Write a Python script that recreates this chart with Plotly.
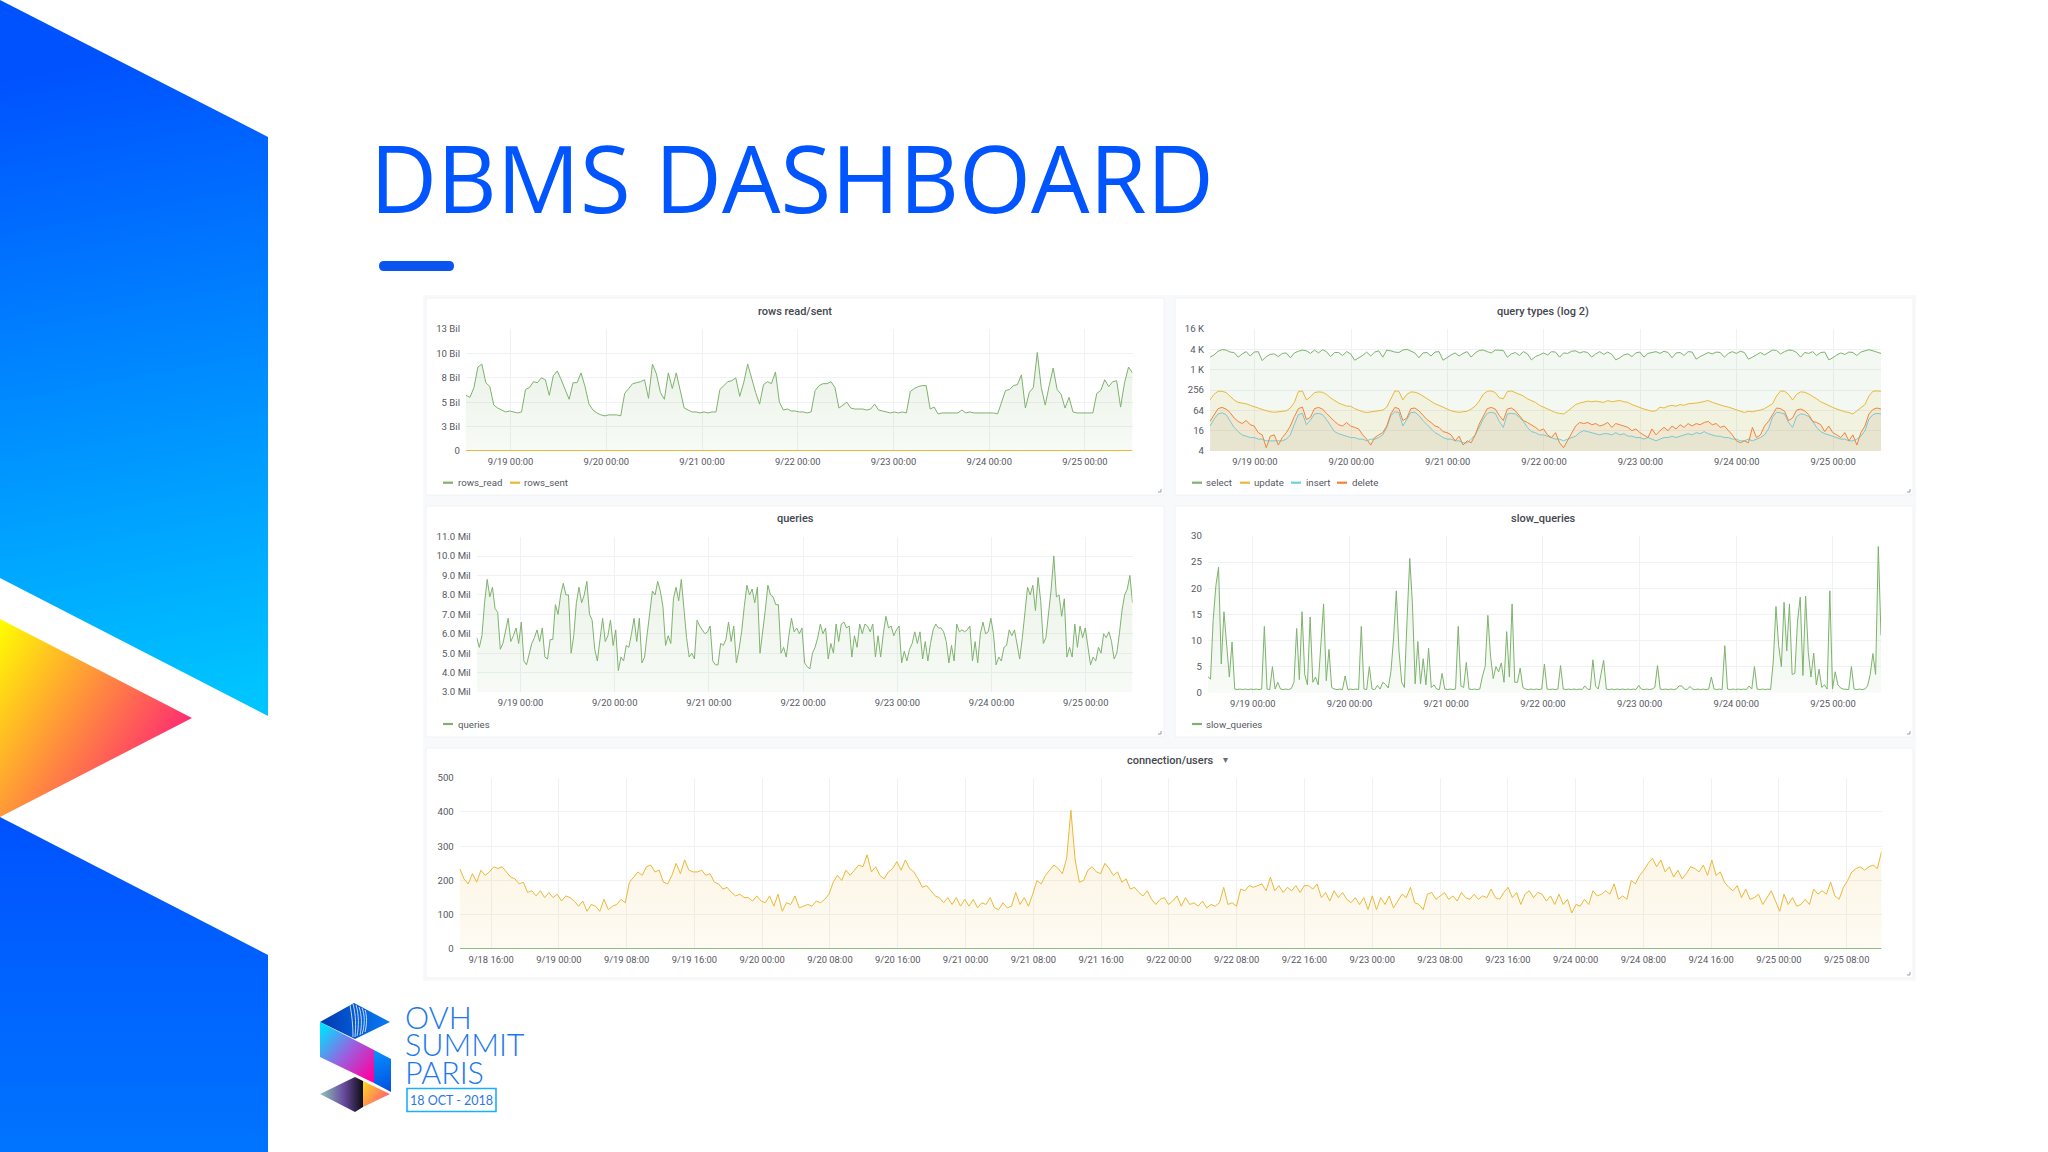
import base64

import pandas as pd
import plotly.graph_objects as go

W, H = 2048, 1152

# values, one row = 12 hours
rows_read = [
    5.7, 5.5, 6.5, 8.6, 8.9, 7.0, 6.6, 4.7, 4.4, 4.2, 4.0, 4.1,
    4.0, 3.9, 4.0, 6.3, 6.5, 7.1, 7.0, 7.5, 7.3, 5.7, 7.7, 8.2,
    7.3, 6.3, 5.3, 7.0, 7.0, 8.0, 6.6, 4.8, 4.2, 3.9, 3.7, 3.6,
    3.7, 3.7, 3.7, 3.6, 5.9, 6.4, 6.9, 7.0, 7.1, 7.3, 5.4, 8.9,
    7.9, 6.0, 5.3, 8.0, 6.4, 8.0, 6.2, 4.4, 4.2, 4.0, 4.0, 3.9,
    4.0, 3.9, 4.0, 4.0, 6.3, 6.7, 7.1, 7.2, 7.5, 5.6, 7.0, 8.9,
    7.3, 6.0, 4.8, 6.8, 7.1, 6.9, 8.1, 5.0, 4.2, 4.3, 4.1, 4.1,
    4.0, 4.0, 3.9, 4.0, 6.2, 6.7, 6.9, 6.9, 7.1, 6.5, 4.4, 4.7,
    5.0, 4.4, 4.3, 4.3, 4.3, 4.2, 4.3, 4.8, 4.2, 4.1, 4.0, 3.9,
    4.0, 3.9, 4.0, 3.9, 6.1, 6.4, 6.6, 6.7, 6.7, 4.3, 4.5, 3.8,
    3.9, 3.9, 3.9, 3.9, 3.9, 4.2, 3.9, 4.0, 3.9, 3.9, 3.9, 3.9,
    3.9, 3.9, 3.8, 5.0, 6.2, 6.3, 6.7, 6.8, 7.8, 4.4, 6.0, 6.5,
    10.1, 6.5, 4.7, 6.7, 8.5, 6.3, 5.8, 4.4, 5.5, 4.0, 3.9, 3.9,
    3.9, 3.9, 3.9, 5.9, 6.2, 7.3, 6.6, 7.1, 7.2, 4.5, 7.0, 8.6, 8.0,
]
rows_sent = [0.05, 0.05, 0.06, 0.05, 0.05, 0.06, 0.05, 0.05]

select_q = [
    2400, 2800, 3600, 4000, 3900, 3400, 3300, 2400, 3000, 3500, 2600, 3400,
    3500, 1900, 2500, 2900, 3000, 2500, 3100, 3200, 2300, 3200, 3600, 3900,
    3700, 3100, 3900, 3200, 4000, 3500, 2500, 3300, 3300, 2700, 3500, 3000,
    1950, 2300, 2700, 3400, 2600, 3400, 3700, 2400, 3900, 3700, 3400, 3300,
    3900, 4100, 3700, 3200, 2300, 3200, 3300, 2600, 3400, 3500, 1950, 2400,
    2800, 3200, 2600, 3100, 3500, 2400, 3200, 3800, 3900, 3500, 3200, 3900,
    3800, 3800, 2400, 3000, 3300, 2700, 3500, 3000, 2000, 2500, 2800, 3200,
    2800, 3500, 3400, 2400, 3200, 3100, 3600, 3700, 3200, 3500, 3300, 2400,
    3000, 3500, 2900, 3400, 2900, 2000, 2300, 2800, 3000, 2500, 3200, 3400,
    2400, 3100, 3300, 3500, 3100, 3600, 3300, 2300, 3200, 3300, 2700, 3500,
    3400, 2100, 2500, 2900, 3300, 3000, 3400, 3300, 2400, 3100, 3500, 3100,
    3600, 3300, 2100, 2400, 2900, 3300, 2800, 3400, 3900, 3800, 3000, 3500,
    3900, 3800, 3300, 2400, 3300, 3100, 3500, 2700, 3300, 3400, 2000, 2300,
    2800, 3200, 2900, 3400, 3300, 2700, 3400, 3700, 4000, 3700, 3400, 3100,
]
update_q = [
    130, 190, 235, 235, 215, 170, 130, 110, 105, 100, 90, 80,
    75, 68, 62, 58, 56, 58, 60, 62, 75, 110, 230, 240,
    130, 160, 215, 225, 220, 190, 150, 125, 105, 95, 85, 85,
    72, 65, 58, 55, 58, 60, 62, 65, 80, 140, 240, 235,
    130, 190, 225, 220, 200, 170, 140, 115, 100, 90, 78, 70,
    62, 58, 56, 58, 60, 70, 85, 120, 190, 235, 240, 215,
    150, 140, 230, 240, 215, 190, 170, 140, 125, 110, 90, 80,
    72, 62, 55, 52, 50, 60, 75, 95, 105, 115, 120, 115,
    120, 115, 110, 125, 115, 120, 125, 115, 110, 95, 85, 75,
    70, 65, 60, 62, 80, 75, 85, 90, 85, 95, 90, 100,
    100, 105, 110, 115, 125, 110, 100, 90, 85, 80, 72, 65,
    58, 55, 60, 58, 62, 65, 72, 85, 100, 170, 240, 235,
    190, 130, 190, 225, 220, 195, 170, 140, 115, 100, 85, 78,
    70, 62, 58, 55, 50, 62, 75, 95, 170, 235, 240, 235,
]
insert_q = [
    22, 35, 50, 54, 48, 30, 20, 15, 12, 11, 10, 10,
    9, 9, 8, 8, 8, 8, 8, 9, 12, 25, 48, 52,
    24, 33, 50, 52, 48, 34, 22, 15, 13, 12, 11, 10,
    10, 9, 9, 8, 9, 9, 10, 12, 20, 45, 58, 55,
    22, 35, 55, 56, 45, 32, 24, 18, 14, 12, 10, 9,
    9, 8, 8, 7, 7, 9, 12, 20, 35, 52, 56, 52,
    30, 20, 50, 52, 50, 40, 30, 20, 15, 14, 12, 12,
    11, 10, 9, 9, 8, 9, 10, 11, 14, 16, 15, 14,
    13, 12, 13, 13, 12, 14, 12, 13, 11, 11, 10, 10,
    9, 10, 9, 8, 9, 10, 10, 11, 10, 11, 12, 13,
    12, 14, 13, 15, 13, 12, 11, 11, 10, 10, 9, 9,
    8, 8, 9, 8, 9, 10, 12, 18, 40, 56, 54, 50,
    28, 20, 42, 50, 48, 42, 30, 20, 15, 13, 12, 11,
    10, 9, 9, 8, 8, 9, 11, 16, 35, 48, 52, 50,
]
delete_q = [
    30, 45, 72, 78, 70, 55, 38, 30, 26, 32, 24, 22,
    14, 12, 5, 11, 12, 6, 10, 14, 22, 42, 72, 80,
    34, 40, 72, 78, 70, 52, 38, 30, 24, 22, 28, 22,
    20, 18, 12, 9, 6, 10, 12, 14, 22, 50, 78, 72,
    32, 38, 72, 75, 62, 45, 34, 28, 22, 20, 15, 14,
    12, 8, 11, 6, 8, 7, 12, 25, 45, 72, 78, 70,
    45, 32, 70, 75, 62, 45, 32, 28, 24, 20, 16, 18,
    12, 10, 14, 7, 5, 8, 14, 22, 28, 26, 28, 24,
    26, 22, 24, 28, 20, 26, 24, 22, 20, 16, 18, 14,
    12, 10, 18, 12, 16, 20, 16, 22, 18, 24, 20, 26,
    22, 26, 24, 28, 30, 24, 26, 20, 22, 16, 12, 8,
    7, 8, 7, 20, 10, 12, 22, 30, 50, 75, 72, 60,
    32, 38, 65, 70, 62, 48, 30, 28, 24, 15, 22, 14,
    12, 10, 14, 8, 12, 6, 14, 22, 50, 68, 75, 70,
]

# millions, one point every 40 minutes or so
queries = [
    5.8, 5.3, 5.9, 7.6, 8.8, 7.9, 8.4, 7.3, 7.1, 5.2, 5.5, 6.1, 6.8, 5.6, 5.9, 6.3, 5.5, 6.6, 4.6, 4.4,
    4.9, 5.5, 5.8, 6.2, 5.6, 6.3, 4.8, 4.7, 5.7, 5.7, 7.5, 7.0, 8.0, 8.6, 8.0, 8.0, 5.0, 5.9, 7.6, 8.4,
    7.6, 8.0, 8.7, 7.0, 6.7, 5.2, 4.6, 5.6, 6.8, 5.6, 5.9, 6.7, 5.4, 6.2, 4.1, 4.8, 4.6, 5.4, 5.3, 6.0,
    6.8, 5.6, 6.8, 4.5, 4.8, 6.0, 7.0, 8.2, 8.0, 8.7, 8.2, 7.4, 5.4, 5.9, 5.5, 7.8, 8.4, 7.7, 8.8, 7.2,
    5.8, 4.8, 5.0, 4.7, 6.7, 6.4, 6.2, 6.0, 6.1, 6.4, 4.6, 4.4, 4.4, 5.5, 5.4, 5.7, 6.6, 5.6, 6.4, 4.5,
    5.2, 6.1, 7.4, 8.5, 8.0, 8.3, 7.6, 8.4, 5.0, 6.0, 7.2, 8.5, 8.0, 7.9, 7.5, 7.5, 5.0, 5.3, 4.8, 5.9,
    6.8, 6.1, 6.3, 6.0, 6.3, 4.5, 4.3, 4.2, 5.0, 5.3, 5.8, 6.5, 6.0, 6.3, 4.7, 5.5, 5.0, 6.5, 5.6, 6.5,
    6.6, 6.3, 6.4, 4.8, 5.9, 5.3, 6.5, 6.0, 6.5, 6.4, 6.1, 6.5, 4.8, 5.9, 4.8, 6.0, 6.9, 6.3, 6.4, 5.9,
    6.2, 6.4, 4.5, 5.1, 4.6, 5.2, 5.5, 6.1, 5.5, 6.1, 4.7, 5.6, 4.6, 5.5, 6.2, 6.5, 6.3, 6.3, 6.1, 5.6,
    4.5, 5.4, 4.6, 6.5, 6.1, 6.2, 6.1, 6.2, 6.4, 4.6, 5.6, 4.5, 6.0, 6.6, 6.0, 6.1, 6.8, 6.0, 4.4, 4.8,
    4.6, 5.3, 5.4, 6.2, 5.9, 6.2, 5.5, 4.7, 5.8, 7.3, 8.4, 8.0, 8.5, 7.2, 8.9, 7.7, 5.5, 5.8, 7.0, 8.3,
    10.0, 7.9, 8.0, 6.9, 7.8, 4.8, 5.3, 4.8, 6.5, 5.3, 6.4, 5.8, 6.3, 5.4, 4.4, 4.8, 4.6, 5.3, 5.0, 6.0,
    5.8, 6.1, 5.6, 4.7, 5.0, 6.0, 7.2, 8.0, 8.3, 9.0, 7.6,
]
slow_queries = [
    3.1, 2.6, 14, 20.5, 24, 5.5, 15.5, 10, 3, 9.7,
    .7, .6, .7, .6, .7, .6, .7, .6, .7, .6,
    .7, 12.7, .7, .6, 5, .7, 2, .7, .6, .7,
    .6, .8, 2, 12.3, 2.5, 15.5, 3.5, 1.5, 14.5, 2,
    3, 1.5, 10, 17, 2.3, 8.3, 1, .7, .6, .7,
    .6, 3.2, .6, .7, .6, .7, .6, 12.7, .7, .6,
    5, .7, .6, 1.4, .7, 2, 1.6, .9, 4, 10.5,
    19.5, 8, 2, 1, 14, 25.7, 17, 1.7, 9.8, 1.7,
    6.5, 1.5, 8.5, 1, 1.5, .7, .6, 3.7, .7, .6,
    .7, .6, .7, 12.7, 1.3, 1, 5.8, .7, .6, .7,
    .6, .7, 3.2, 5, 14.8, 7, 2.7, 5, 4, 5.7,
    2, 11.7, 3, 17, 2, 2, 4.7, 1, .7, .6,
    .7, .6, .7, .6, .7, 5.5, .7, .6, .7, .6,
    .7, 5.2, .7, .6, .7, .6, .7, .6, .7, .6,
    1.3, .7, .6, 6.3, 1.3, .7, 3.5, 6.2, .7, .6,
    .7, .6, .7, .6, .7, .6, .7, .6, .7, .6,
    1.4, .7, .6, .7, .6, .7, 1, 5.2, .7, .6,
    .7, .6, .7, .6, .7, 1.3, 1.3, .7, .6, 1.2,
    .7, .6, .7, .6, .7, .6, .7, 3, .7, .6,
    .7, .6, 9, .7, .6, .7, .6, .7, .6, .7,
    .6, 1.3, .7, 5, .7, .6, .7, .6, .7, .6,
    6, 16.5, 9, 5, 17.3, 8, 17, 3.5, 3.7, 13.7,
    18.3, 3.3, 18.5, 7.7, 3, 7.6, 1.5, 4.5, 1, 1.5,
    .7, 19.5, .7, 4, 1.5, .9, .7, .7, .6, 5,
    .7, .6, .7, .6, .7, 1.3, 3.5, 7.5, 3.5, 28, 11,
]

# one point every 30 minutes or so
connections = [
    235, 205, 190, 220, 195, 230, 215, 225, 240, 235, 240, 225, 210, 205, 190, 195, 165, 170, 155, 170,
    150, 165, 150, 160, 140, 155, 150, 140, 125, 140, 110, 130, 125, 110, 145, 115, 125, 130, 145, 135,
    195, 210, 225, 215, 240, 245, 225, 230, 195, 190, 215, 250, 220, 260, 230, 225, 225, 230, 215, 220,
    195, 190, 175, 180, 165, 155, 160, 150, 150, 140, 155, 140,
    135, 155, 125, 160, 110, 135, 130, 155, 120, 125, 130, 125, 140, 135, 145, 160,
    195, 215, 200, 230, 215, 230, 245, 240, 275, 225, 240, 215, 205, 225, 235, 255, 230, 260, 235, 225,
    205, 180, 185, 170, 155, 150, 135, 150, 130, 150, 125, 145, 125, 145, 120, 135, 130, 150, 120, 115,
    135, 120, 125, 165, 130, 150, 125, 160, 200, 190, 215, 230, 245, 235, 220, 265, 405, 260, 195, 200,
    230, 240, 225, 220, 250, 235, 215, 225, 195, 205, 175, 180, 165, 155, 170, 145, 130, 145, 150, 130,
    140, 155, 125, 150, 130, 135, 125, 140, 120, 130, 125, 135, 180, 130, 135, 125, 175, 170, 185, 180,
    185, 190, 170, 210, 170, 185, 165, 180, 170, 185, 165, 185, 185, 175, 190, 150, 165, 140, 170, 150,
    165, 145, 135, 150, 130, 150, 115, 155, 115, 150, 130, 155, 120, 140, 160, 150, 180, 135, 130, 115,
    160, 165, 145, 155, 165, 145, 155, 140, 165, 150, 145, 160, 145, 155, 150, 175, 150, 145, 165, 180,
    150, 165, 130, 160, 170, 150, 165, 160, 140, 155, 130, 160, 130, 145, 105, 130, 125, 145, 130, 170,
    155, 160, 170, 160, 190, 145, 155, 145, 200, 190, 215, 230, 250, 265, 240, 260, 225, 240, 210, 230,
    205, 220, 240, 235, 225, 245, 215, 260, 215, 225, 195, 180, 170, 185, 150, 175, 145, 150, 160, 130,
    150, 170, 140, 110, 160, 130, 150, 125, 130, 145, 130, 175, 160, 170, 160, 195, 155, 145, 180, 200,
    225, 235, 240, 230, 240, 245, 235, 285,
]
users = [1, 1, 1, 1, 1, 1, 1, 1]

rows_ticks = [0, 2.5, 5, 7.5, 10, 12.5]
rows_labels = ["0", "3 Bil", "5 Bil", "8 Bil", "10 Bil", "13 Bil"]
log_ticks = [4, 16, 64, 256, 1024, 4096, 16384]
log_labels = ["4", "16", "64", "256", "1 K", "4 K", "16 K"]
query_ticks = [3, 4, 5, 6, 7, 8, 9, 10, 11]
query_labels = ["3.0 Mil", "4.0 Mil", "5.0 Mil", "6.0 Mil", "7.0 Mil", "8.0 Mil", "9.0 Mil", "10.0 Mil", "11.0 Mil"]
slow_ticks = [0, 5, 10, 15, 20, 25, 30]
conn_ticks = [0, 100, 200, 300, 400, 500]

GREEN, YELLOW, BLUE, ORANGE = "#7eb26d", "#eab839", "#6ed0e0", "#ef843c"
TICK = "#55585f"
GRID = "#f0f1f4"
FONT = "Roboto"
T0, T1 = "2018-09-18 12:50", "2018-09-25 11:55"
T0B, T1B = "2018-09-18 12:18", "2018-09-25 12:07"


def px(x):
    return x / W


def py(y):
    return 1 - y / H


def note(x, y, text, size=9.7, color=TICK, anchor="left", weight=400, family=FONT):
    return dict(
        x=px(x), y=py(y), xref="paper", yref="paper", text=text, showarrow=False,
        xanchor=anchor, yanchor="middle", borderpad=0,
        font=dict(family=family, size=size, color=color, weight=weight),
    )


def rect(x0, y0, x1, y1, fill, line=None):
    return dict(
        type="rect", xref="paper", yref="paper", layer="below",
        x0=px(x0), x1=px(x1), y0=py(y0), y1=py(y1), fillcolor=fill,
        line=dict(color=line or fill, width=1 if line else 0),
    )


def seg(x0, y0, x1, y1, color, width):
    return dict(
        type="line", xref="paper", yref="paper", layer="below",
        x0=px(x0), x1=px(x1), y0=py(y0), y1=py(y1), line=dict(color=color, width=width),
    )


def rgba(hex_color, alpha):
    r, g, b = int(hex_color[1:3], 16), int(hex_color[3:5], 16), int(hex_color[5:7], 16)
    return f"rgba({r},{g},{b},{alpha})"


# slide artwork: only gradients and polygons, all text stays real text below
art = f"""<svg xmlns="http://www.w3.org/2000/svg" width="{W}" height="{H}" viewBox="0 0 {W} {H}">
<defs>
<linearGradient id="a" gradientUnits="userSpaceOnUse" x1="0" y1="80" x2="120" y2="716"><stop offset="0" stop-color="#0052ff"/><stop offset="1" stop-color="#00c4ff"/></linearGradient>
<linearGradient id="b" gradientUnits="userSpaceOnUse" x1="0" y1="619" x2="192" y2="740"><stop offset="0" stop-color="#ffff00"/><stop offset="1" stop-color="#ff2277"/></linearGradient>
<linearGradient id="c" gradientUnits="userSpaceOnUse" x1="0" y1="817" x2="0" y2="1152"><stop offset="0" stop-color="#0052ff"/><stop offset="1" stop-color="#0074ff"/></linearGradient>
<linearGradient id="d" gradientUnits="userSpaceOnUse" x1="320" y1="1020" x2="390" y2="1020"><stop offset="0" stop-color="#0038b0"/><stop offset="1" stop-color="#0a7cf5"/></linearGradient>
<linearGradient id="e" gradientUnits="userSpaceOnUse" x1="320" y1="1030" x2="374" y2="1075"><stop offset="0" stop-color="#00e0ff"/><stop offset=".5" stop-color="#9a60e0"/><stop offset="1" stop-color="#ff00a0"/></linearGradient>
<linearGradient id="f" gradientUnits="userSpaceOnUse" x1="374" y1="1050" x2="390" y2="1092"><stop offset="0" stop-color="#0a90ff"/><stop offset="1" stop-color="#0050e0"/></linearGradient>
<linearGradient id="g" gradientUnits="userSpaceOnUse" x1="320" y1="1094" x2="363" y2="1094"><stop offset="0" stop-color="#8fc8b8"/><stop offset=".55" stop-color="#6a4aa0"/><stop offset="1" stop-color="#0d0d16"/></linearGradient>
<linearGradient id="h" gradientUnits="userSpaceOnUse" x1="363" y1="1085" x2="390" y2="1105"><stop offset="0" stop-color="#ffd020"/><stop offset="1" stop-color="#ff4a88"/></linearGradient>
</defs>
<polygon points="0,0 268,137 268,716 0,578" fill="url(#a)"/>
<polygon points="0,619 192,718 0,817" fill="url(#b)"/>
<polygon points="0,817 268,955 268,1152 0,1152" fill="url(#c)"/>
<polygon points="320,1022 354,1003 390,1022 355,1039" fill="url(#d)"/>
<g fill="none" stroke="#ffffff" stroke-width=".9" opacity=".85">
<path d="M350,1005 C352,1015 353,1026 353,1037"/><path d="M353,1004 C356,1015 356,1026 355,1037"/>
<path d="M356,1005 C359,1015 359,1026 357,1036"/><path d="M359,1007 C362,1015 362,1026 360,1035"/>
<path d="M362,1008 C365,1015 365,1026 362,1034"/><path d="M365,1010 C367,1016 367,1024 365,1032"/>
</g>
<polygon points="320,1022 374,1050 374,1083 320,1057" fill="url(#e)"/>
<polygon points="374,1050 391,1059 391,1092 374,1083" fill="url(#f)"/>
<polygon points="320,1094 355,1077 363,1081 363,1107 355,1112" fill="url(#g)"/>
<polygon points="363,1081 390,1094 363,1107" fill="url(#h)"/>
</svg>"""
art_uri = "data:image/svg+xml;base64," + base64.b64encode(art.encode()).decode()

fig = go.Figure()


def add_panel(n, box, x_range, y_axis, series):
    # box is the plot area in page pixels: left, top, right, bottom
    left, top, right, bottom = box
    x_key, y_key = f"xaxis{n}", f"yaxis{n}"
    for s in series:
        times = pd.date_range(x_range[0], x_range[1], periods=len(s["y"]))
        trace = dict(
            x=times, y=s["y"], name=s["name"], mode="lines", xaxis=f"x{n}", yaxis=f"y{n}",
            line=dict(color=s["color"], width=1), hoverinfo="skip", fill="tozeroy",
        )
        if y_axis.get("type") == "log":
            trace["fillcolor"] = rgba(s["color"], 0.09)
        else:
            trace["fillgradient"] = dict(
                type="vertical", start=y_axis["range"][0], stop=max(s["y"]),
                colorscale=[[0, rgba(s["color"], 0.06)], [1, rgba(s["color"], 0.16)]],
            )
        fig.add_trace(go.Scatter(**trace))
    fig.update_layout({
        x_key: dict(
            domain=[px(left), px(right)], anchor=f"y{n}", range=list(x_range), type="date",
            tickformat="%-m/%-d %H:%M", tick0=y_axis["tick0"], dtick=y_axis["dtick"],
            showgrid=True, gridcolor=GRID, gridwidth=1, zeroline=False, showline=False,
            ticks="", ticklabelstandoff=4, tickfont=dict(family=FONT, size=9.4, color=TICK),
        ),
        y_key: dict(
            domain=[py(bottom), py(top)], anchor=f"x{n}", type=y_axis.get("type", "linear"),
            range=y_axis["log_range"] if "log_range" in y_axis else y_axis["range"],
            tickvals=y_axis["ticks"], ticktext=y_axis["labels"],
            showgrid=True, gridcolor=GRID, gridwidth=1.2, zeroline=False, showline=False,
            ticks="", ticklabelstandoff=5, tickfont=dict(family=FONT, size=9.6, color=TICK),
        ),
    })


DAY = 86400000
add_panel(
    1, (466, 329, 1132.5, 451), (T0, T1),
    dict(range=[0, 12.5], ticks=rows_ticks, labels=rows_labels, tick0="2018-09-19", dtick=DAY),
    [dict(name="rows_read", y=rows_read, color=GREEN), dict(name="rows_sent", y=rows_sent, color=YELLOW)],
)
add_panel(
    2, (1210, 329, 1881, 451), (T0, T1),
    dict(type="log", range=[4, 16384], log_range=[0.60206, 4.21442], ticks=log_ticks, labels=log_labels,
         tick0="2018-09-19", dtick=DAY),
    [dict(name="select", y=select_q, color=GREEN), dict(name="update", y=update_q, color=YELLOW),
     dict(name="insert", y=insert_q, color=BLUE), dict(name="delete", y=delete_q, color=ORANGE)],
)
add_panel(
    3, (476.7, 536.7, 1132.5, 692), (T0, T1),
    dict(range=[3, 11], ticks=query_ticks, labels=query_labels, tick0="2018-09-19", dtick=DAY),
    [dict(name="queries", y=queries, color=GREEN)],
)
add_panel(
    4, (1207.8, 536, 1881, 692.7), (T0, T1),
    dict(range=[0, 30], ticks=slow_ticks, labels=[str(v) for v in slow_ticks], tick0="2018-09-19", dtick=DAY),
    [dict(name="slow_queries", y=slow_queries, color=GREEN)],
)
add_panel(
    5, (459.7, 777.7, 1881.6, 949), (T0B, T1B),
    dict(range=[0, 500], ticks=conn_ticks, labels=[str(v) for v in conn_ticks],
         tick0="2018-09-18 16:00", dtick=DAY / 3),
    [dict(name="connections", y=connections, color=YELLOW), dict(name="users", y=users, color=GREEN)],
)

PANEL_LINE = "#f1f2f5"
shapes = [
    rect(423, 295, 1916, 981, "#f8f9fb"),
    rect(426, 298, 1164, 495, "#ffffff", PANEL_LINE),
    rect(1175, 298, 1913, 495, "#ffffff", PANEL_LINE),
    rect(426, 506, 1164, 737, "#ffffff", PANEL_LINE),
    rect(1175, 506, 1913, 737, "#ffffff", PANEL_LINE),
    rect(426, 748, 1913, 978, "#ffffff", PANEL_LINE),
    # blue bar under the slide title
    dict(type="path", xref="paper", yref="paper", layer="below", fillcolor="#0a55f0", line=dict(width=0),
         path=f"M{px(384)},{py(261)} L{px(449)},{py(261)} Q{px(454)},{py(261)} {px(454)},{py(266)} "
              f"Q{px(454)},{py(271)} {px(449)},{py(271)} L{px(384)},{py(271)} "
              f"Q{px(379)},{py(271)} {px(379)},{py(266)} Q{px(379)},{py(261)} {px(384)},{py(261)} Z"),
    # date box of the logo
    dict(type="rect", xref="paper", yref="paper", x0=px(407), x1=px(496), y0=py(1088.5), y1=py(1111.5),
         fillcolor="rgba(0,0,0,0)", line=dict(color="#1aaeff", width=1.6)),
]

# legend dashes
legend_items = [
    (443, 482.7, 456.8, GREEN, "rows_read"), (510, 482.7, 523, YELLOW, "rows_sent"),
    (1192, 482.7, 1205, GREEN, "select"), (1240, 482.7, 1253, YELLOW, "update"),
    (1291, 482.7, 1305, BLUE, "insert"), (1337, 482.7, 1351, ORANGE, "delete"),
    (443, 724, 456.8, GREEN, "queries"), (1192, 724, 1205, GREEN, "slow_queries"),
]
for x_dash, y_leg, _, color, _ in legend_items:
    shapes.append(seg(x_dash, y_leg, x_dash + 10, y_leg, color, 2.2))

# resize handles in the panel corners
for cx, cy in [(1161, 492), (1910, 492), (1161, 734), (1910, 734), (1910, 975)]:
    shapes.append(seg(cx - 3, cy, cx, cy, "#9a9da3", 1))
    shapes.append(seg(cx, cy - 3, cx, cy, "#9a9da3", 1))

notes = [
    note(369, 177, "DBMS DASHBOARD", size=92.5, color="#0055ff", family="Open Sans"),
    note(795, 311, "rows read/sent", size=11, color="#44474e", anchor="center", weight=500),
    note(1543, 311, "query types (log 2)", size=11, color="#44474e", anchor="center", weight=500),
    note(795, 518, "queries", size=11, color="#44474e", anchor="center", weight=500),
    note(1543, 518, "slow_queries", size=11, color="#44474e", anchor="center", weight=500),
    note(1170, 760, "connection/users", size=11, color="#44474e", anchor="center", weight=500),
    note(1225, 759.5, "▾", size=10, color="#6a6d73", anchor="center"),
    note(404, 1017, "OVH", size=30.5, color="#1c78ee", family="Lato", weight=300),
    note(404, 1044, "SUMMIT", size=30.5, color="#1c78ee", family="Lato", weight=300),
    note(404, 1072, "PARIS", size=30.5, color="#1c78ee", family="Lato", weight=300),
    note(451.5, 1100, "18 OCT - 2018", size=12.5, color="#2a78e4", anchor="center", family="Lato"),
]
for _, y_leg, x_text, _, label in legend_items:
    notes.append(note(x_text, y_leg, label))

fig.update_layout(
    width=W, height=H, margin=dict(l=0, r=0, t=0, b=0, autoexpand=False),
    paper_bgcolor="#ffffff", plot_bgcolor="rgba(0,0,0,0)", showlegend=False,
    shapes=shapes, annotations=notes,
    images=[dict(source=art_uri, xref="paper", yref="paper", x=0, y=1, sizex=1, sizey=1,
                 xanchor="left", yanchor="top", sizing="stretch", layer="below")],
)

fig.write_html("out.html", config={"displayModeBar": False},
               post_script="document.body.style.margin='0';")
